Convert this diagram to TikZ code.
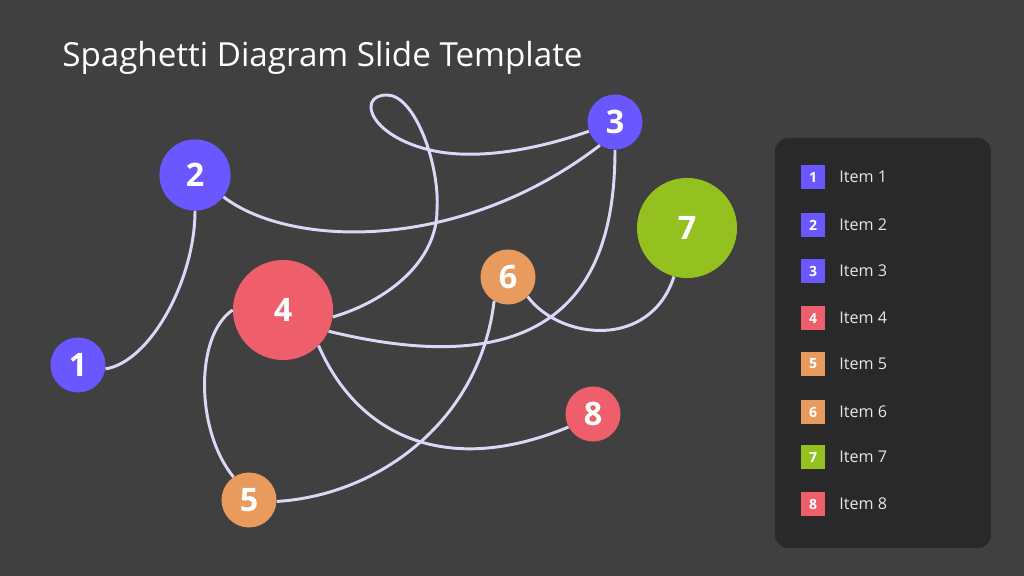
\documentclass[tikz,border=0pt]{standalone}
\usepackage{fontspec}
\setmainfont{Open Sans}
\usepackage{tikz}

\definecolor{bgcol}{HTML}{404040}
\definecolor{panelcol}{HTML}{292929}
\definecolor{clink}{HTML}{DCD7F7}
\definecolor{cpurple}{HTML}{6B57FF}
\definecolor{cred}{HTML}{EF5F6B}
\definecolor{corange}{HTML}{E99B5E}
\definecolor{cgreen}{HTML}{94C11F}
\definecolor{ctext}{HTML}{E6E6E6}

\begin{document}
\begin{tikzpicture}
			[x=0.025cm,y=-0.025cm,every node/.style={circle,inner sep=0pt,text=white,font=\bfseries\fontsize{23}{23}\selectfont},
			small/.style={minimum size=1.375cm}, mid/.style={minimum size=1.78cm}, big/.style={minimum size=2.5cm},
			edge/.style={draw=clink,line width=2.1pt},
			key/.style={rectangle,minimum size=0.6cm,font=\bfseries\fontsize{10}{10}\selectfont},
			keytext/.style={rectangle,anchor=west,text=ctext,font=\fontsize{11.5}{11.5}\selectfont}]
			\useasboundingbox (0,0) rectangle (1024,576);
			\fill[bgcol] (0,0) rectangle (1024,576);
			\fill[panelcol,rounded corners=0.33cm] (775,138) rectangle (991,548);
			
			\node[rectangle,anchor=base west,text=white,font=\fontsize{23.6}{23.6}\selectfont] (title) at (62,67) {Spaghetti Diagram Slide Template};
			
			\node[small,fill=cpurple] (n1) at (78,365)  {1};
			\node[mid,fill=cpurple] (n2) at (195,175)  {2};
			\node[small,fill=cpurple] (n3) at (615,122)  {3};
			\node[big,fill=cred] (n4) at (283,310)  {4};
			\node[small,fill=corange] (n5) at (249,500)  {5};
			\node[small,fill=corange] (n6) at (508,277)  {6};
			\node[big,fill=cgreen] (n7) at (687,228)  {7};
			\node[small,fill=cred] (n8) at (593,414)  {8};
			
			\coordinate (loopR) at (437,210);
			\coordinate (loopT) at (387,95);
			\coordinate (loopX) at (440,152);
			
			\draw[edge] (n1.-8) .. controls (150,362) and (195,280) .. (n2.south);
			\draw[edge] (n2) .. controls (290,248) and (460,253) .. (n3.-123);
			\draw[edge] (n4.-8) .. controls (390,300) and (437,260) .. (loopR)
				.. controls (440,165) and (415,95) .. (loopT)
				.. controls (355,95) and (370,140) .. (loopX)
				.. controls (490,160) and (550,145) .. (n3);
			\draw[edge] (n3.south) .. controls (615,270) and (570,390) .. (n4.-25);
			\draw[edge] (n4.-45) .. controls (355,430) and (440,480) .. (n8.-152);
			\draw[edge] (n4.west) .. controls (195,335) and (195,430) .. (n5.124);
			\draw[edge] (n5.-3) .. controls (380,495) and (480,420) .. (n6.-120);
			\draw[edge] (n6.-45) .. controls (560,340) and (650,350) .. (n7.-105);
			
			\node[key,fill=cpurple] (k1) at (813,177) {1};
			\node[keytext] (t1) at (839,177) {Item 1};
			\node[key,fill=cpurple] (k2) at (813,225) {2};
			\node[keytext] (t2) at (839,225) {Item 2};
			\node[key,fill=cpurple] (k3) at (813,271) {3};
			\node[keytext] (t3) at (839,271) {Item 3};
			\node[key,fill=cred] (k4) at (813,318) {4};
			\node[keytext] (t4) at (839,318) {Item 4};
			\node[key,fill=corange] (k5) at (813,364) {5};
			\node[keytext] (t5) at (839,364) {Item 5};
			\node[key,fill=corange] (k6) at (813,412) {6};
			\node[keytext] (t6) at (839,412) {Item 6};
			\node[key,fill=cgreen] (k7) at (813,457) {7};
			\node[keytext] (t7) at (839,457) {Item 7};
			\node[key,fill=cred] (k8) at (813,504) {8};
			\node[keytext] (t8) at (839,504) {Item 8};
			\end{tikzpicture}
\end{document}
